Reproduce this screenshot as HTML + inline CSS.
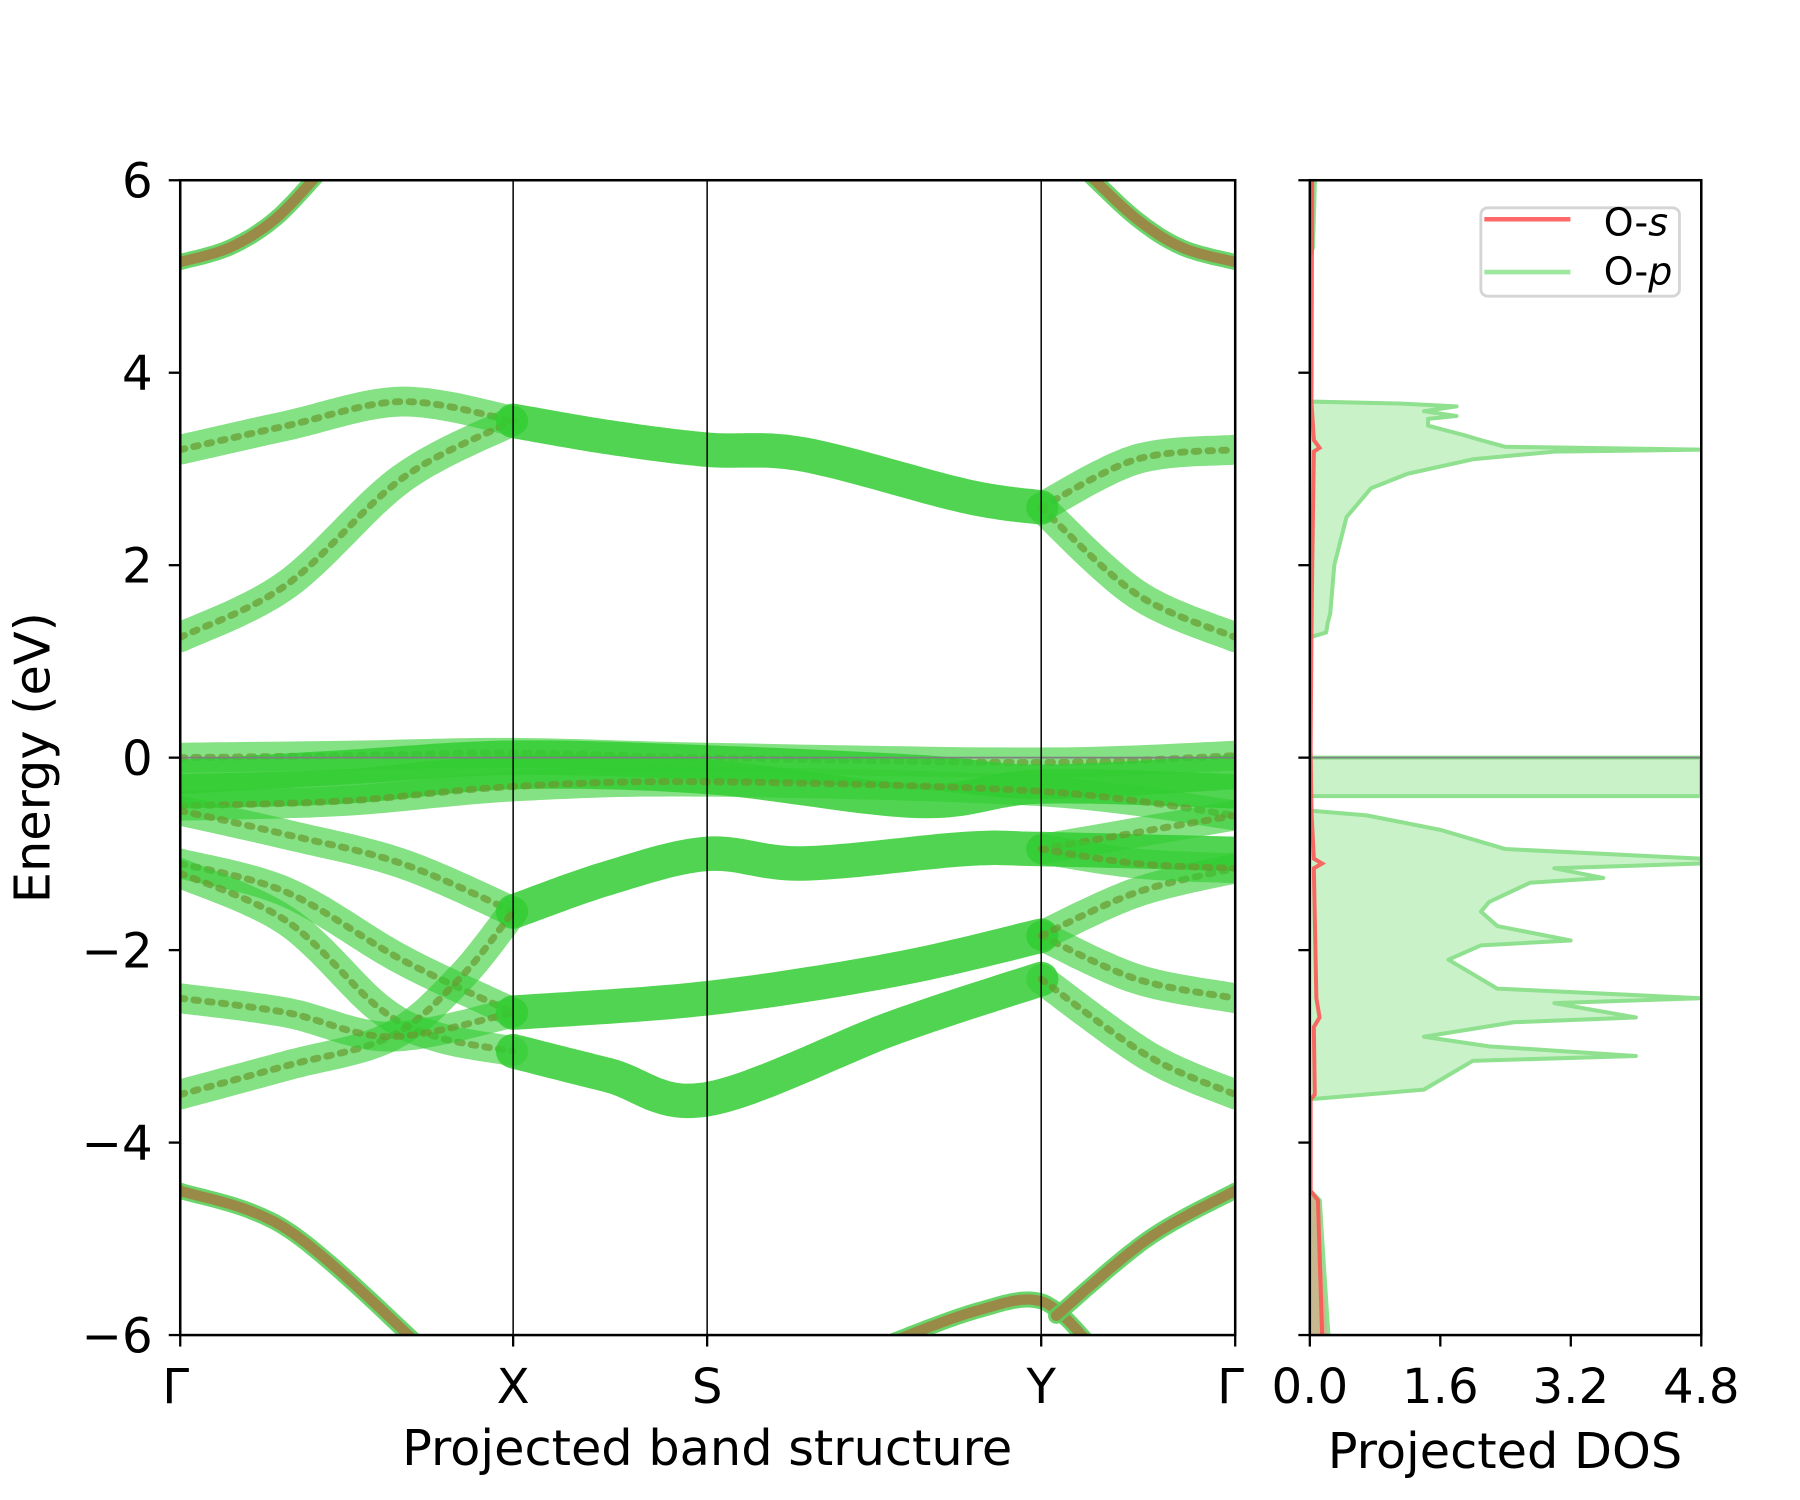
<!DOCTYPE html>
<html><head><meta charset="utf-8"><style>
html,body{margin:0;padding:0;background:#fff;}
svg{display:block;}
text{font-family:"DejaVu Sans","Liberation Sans",sans-serif;fill:#000;}
</style></head><body>
<svg id="s" width="1800" height="1500" viewBox="0 0 1568 1306.67" xmlns="http://www.w3.org/2000/svg">
<defs>
<clipPath id="cb"><rect x="157" y="157" width="919" height="1006"/></clipPath>
<clipPath id="cd"><rect x="1141" y="157" width="341" height="1006"/></clipPath>
</defs>
<rect width="1568" height="1307" fill="#fff"/>
<g id="bands" clip-path="url(#cb)"></g>
<g id="dos" clip-path="url(#cd)"></g>
<g id="axes"></g>
</svg>
<script>
var NS="http://www.w3.org/2000/svg";
function el(p,t,a,txt){var e=document.createElementNS(NS,t);for(var k in a)e.setAttribute(k,a[k]);if(txt!==undefined)e.textContent=txt;p.appendChild(e);return e;}
var B=document.getElementById('bands'),D=document.getElementById('dos'),A=document.getElementById('axes');
function Y(E){return 660-E*83.83;}
var G0=157,X=447,S=616,YY=907,G1=1076;
function curve(pts){
  var P=pts.map(function(p){return [p[0],Y(p[1])];});
  var n=P.length,out=[];
  for(var i=0;i<n-1;i++){
    var p0=P[i>0?i-1:0],p1=P[i],p2=P[i+1],p3=P[i+2<n?i+2:n-1];
    for(var t=0;t<1;t+=0.05){var t2=t*t,t3=t2*t;
      var f=function(a,b,c,d){return 0.5*(2*b+(-a+c)*t+(2*a-5*b+4*c-d)*t2+(-a+3*b-3*c+d)*t3);};
      out.push([f(p0[0],p1[0],p2[0],p3[0]),f(p0[1],p1[1],p2[1],p3[1])]);}
  }
  out.push(P[n-1]);
  return out.map(function(p){return p[0].toFixed(1)+','+p[1].toFixed(1)}).join(' ');
}
function band(pts,type){
  var d=curve(pts);
  if(type=='thick'){el(B,'polyline',{points:d,fill:'none',stroke:'#32cd32','stroke-width':30,'stroke-opacity':0.85,'stroke-linecap':'round','stroke-linejoin':'round'});}
  else if(type=='light'){el(B,'polyline',{points:d,fill:'none',stroke:'#32cd32','stroke-width':26,'stroke-opacity':0.6,'stroke-linecap':'round','stroke-linejoin':'round'});
    el(B,'polyline',{points:d,fill:'none',stroke:'#6a9a30','stroke-width':6,'stroke-opacity':0.7,'stroke-dasharray':'4 8','stroke-linecap':'round'});}
  else {el(B,'polyline',{points:d,fill:'none',stroke:'#5ad05a','stroke-width':14,'stroke-opacity':0.9,'stroke-linecap':'round'});
    el(B,'polyline',{points:d,fill:'none',stroke:'#9a8a48','stroke-width':9,'stroke-linecap':'round'});}
}
band([[G0,5.15],[200,5.3],[240,5.6],[280,6.1]],'dot');
band([[945,6.1],[990,5.6],[1030,5.3],[G1,5.15]],'dot');
band([[G0,3.2],[250,3.45],[350,3.7],[X,3.5]],'light');
band([[G0,1.25],[250,1.8],[350,2.9],[X,3.5]],'light');
band([[YY,2.6],[990,3.1],[G1,3.2]],'light');
band([[YY,2.6],[990,1.7],[G1,1.25]],'light');
band([[X,3.5],[530,3.33],[S,3.2],[700,3.15],[840,2.72],[YY,2.6]],'thick');
band([[G0,0.0],[300,0.02],[X,0.05],[S,0.0],[YY,-0.05],[G1,0.02]],'light');
band([[G0,-0.2],[300,-0.1],[X,0.0],[S,-0.05],[800,-0.15],[YY,-0.25],[G1,-0.15]],'thick');
band([[G0,-0.35],[300,-0.3],[X,-0.15],[S,-0.2],[800,-0.45],[YY,-0.3],[G1,-0.35]],'thick');
band([[G0,-0.5],[300,-0.45],[X,-0.3],[S,-0.25],[YY,-0.35],[G1,-0.6]],'light');
band([[G0,-0.55],[250,-0.8],[350,-1.1],[X,-1.6]],'light');
band([[X,-1.6],[530,-1.25],[S,-1.0],[700,-1.1],[840,-0.95],[YY,-0.95],[G1,-1.0]],'thick');
band([[YY,-0.95],[G1,-0.6]],'light');
band([[G0,-1.1],[250,-1.4],[350,-2.1],[X,-2.65]],'light');
band([[G0,-1.2],[250,-1.7],[330,-2.6],[380,-2.9],[X,-3.05]],'light');
band([[G0,-3.5],[250,-3.2],[340,-2.9],[400,-2.3],[X,-1.6]],'light');
band([[G0,-2.5],[250,-2.65],[340,-2.9],[X,-2.65]],'light');
band([[X,-2.65],[S,-2.5],[780,-2.2],[YY,-1.85]],'thick');
band([[X,-3.05],[530,-3.3],[S,-3.55],[780,-2.8],[YY,-2.3]],'thick');
band([[YY,-1.85],[990,-2.3],[G1,-2.5]],'light');
band([[YY,-1.85],[990,-1.4],[G1,-1.15]],'light');
band([[YY,-2.3],[1000,-3.1],[G1,-3.5]],'light');
band([[YY,-0.95],[990,-1.1],[G1,-1.15]],'light');
band([[G0,-4.5],[250,-4.9],[365,-6.1]],'dot');
band([[770,-6.1],[850,-5.75],[YY,-5.65],[950,-6.1]],'dot');
band([[920,-5.8],[1000,-5.0],[G1,-4.5]],'dot');
el(B,'line',{x1:157,y1:660,x2:1076,y2:660,stroke:'#808080','stroke-width':1.5});
function dx(v){return 1141+v*71;}
function dosPath(arr){var s='M'+dx(0)+','+Y(arr[0][0]);arr.forEach(function(p){s+=' L'+dx(p[1]).toFixed(1)+','+Y(p[0]).toFixed(1);});s+=' L'+dx(0)+','+Y(arr[arr.length-1][0]);return s;}
var cb=[[1.25,0],[1.3,0.2],[1.4,0.22],[1.5,0.25],[2.0,0.3],[2.5,0.45],[2.8,0.75],[2.95,1.2],[3.1,2.0],[3.18,3.0],[3.2,4.8],[3.23,2.4],[3.3,2.1],[3.35,1.9],[3.45,1.45],[3.52,1.45],[3.55,1.8],[3.6,1.4],[3.65,1.8],[3.68,1.1],[3.7,0.0]];
var vb=[[-0.55,0],[-0.6,0.7],[-0.75,1.6],[-0.95,2.4],[-1.05,4.8],[-1.1,4.8],[-1.15,3.0],[-1.25,3.6],[-1.3,2.7],[-1.5,2.2],[-1.6,2.1],[-1.75,2.3],[-1.9,3.2],[-1.95,2.1],[-2.1,1.7],[-2.4,2.3],[-2.5,4.8],[-2.55,3.0],[-2.7,4.0],[-2.75,2.5],[-2.9,1.4],[-3.0,2.2],[-3.1,4.0],[-3.15,2.0],[-3.35,1.6],[-3.45,1.4],[-3.55,0]];
var fb=[[0,0],[0,4.8],[-0.4,4.8],[-0.4,0]];
[cb,vb,fb].forEach(function(a){el(D,'path',{d:dosPath(a),fill:'#c9f2c9',stroke:'#8fe08f','stroke-width':3.5,'stroke-linejoin':'round'});});
el(D,'path',{d:'M1141,'+Y(-4.5)+' L1146,'+Y(-4.55)+' L1150,'+Y(-4.6)+' L1152,'+Y(-5)+' L1158,'+Y(-6.1)+' L1141,'+Y(-6.1)+'Z',fill:'#c8b890',stroke:'#8fe08f','stroke-width':3});
el(D,'path',{d:'M1141,'+Y(5.2)+' L1144,'+Y(5.3)+' L1146,'+Y(6.1)+' L1141,'+Y(6.1)+'Z',fill:'#a0a050',stroke:'#8fe08f','stroke-width':3});
var os=[[6,0.03],[3.7,0.02],[3.3,0.05],[3.22,0.12],[3.18,0.05],[2,0.03],[1.25,0.02],[0.1,0.01],[-0.55,0.02],[-1.05,0.05],[-1.1,0.15],[-1.15,0.05],[-2.5,0.08],[-2.7,0.12],[-2.8,0.05],[-3.5,0.06],[-3.55,0.01],[-4.5,0.01],[-4.6,0.1],[-6,0.15]];
el(D,'polyline',{points:os.map(function(p){return dx(p[1]).toFixed(1)+','+Y(p[0]).toFixed(1)}).join(' '),fill:'none',stroke:'#ff5050','stroke-width':3.5,'stroke-opacity':0.85});
el(D,'line',{x1:1141,y1:660,x2:1482,y2:660,stroke:'#808080','stroke-width':1.5});
el(A,'rect',{x:1290,y:181,width:173,height:77,rx:6,fill:'#fff','fill-opacity':0.8,stroke:'#d5d5d5','stroke-width':2.5});
el(A,'line',{x1:1293,y1:191,x2:1368,y2:191,stroke:'#ff6868','stroke-width':4});
el(A,'line',{x1:1293,y1:237,x2:1368,y2:237,stroke:'#9ee89e','stroke-width':4});
var t1=el(A,'text',{x:1397,y:205,'font-size':33},'O-');el(t1,'tspan',{'font-style':'italic'},'s');
var t2=el(A,'text',{x:1397,y:248,'font-size':33},'O-');el(t2,'tspan',{'font-style':'italic'},'p');
[X,S,YY].forEach(function(x){el(A,'line',{x1:x,y1:157,x2:x,y2:1163,stroke:'#000','stroke-width':1.3});});
el(A,'rect',{x:157,y:157,width:919,height:1006,fill:'none',stroke:'#000','stroke-width':2.2});
el(A,'rect',{x:1141,y:157,width:341,height:1006,fill:'none',stroke:'#000','stroke-width':2.2});
for(var E=-6;E<=6;E+=2){var y=Y(E);
  el(A,'line',{x1:147,y1:y,x2:157,y2:y,stroke:'#000','stroke-width':2});
  el(A,'line',{x1:1131,y1:y,x2:1141,y2:y,stroke:'#000','stroke-width':2});
  el(A,'text',{x:133,y:y+15,'font-size':42,'text-anchor':'end'},(E<0?'\u2212':'')+Math.abs(E));}
[[G0,'\u0393'],[X,'X'],[S,'S'],[YY,'Y'],[G1,'\u0393']].forEach(function(p){
  el(A,'line',{x1:p[0],y1:1163,x2:p[0],y2:1173,stroke:'#000','stroke-width':2});
  el(A,'text',{x:p[0]-(p[1]=='\u0393'?4:0),y:1222,'font-size':42,'text-anchor':'middle'},p[1]);});
['0.0','1.6','3.2','4.8'].forEach(function(s,i){var x=1141+i*113.67;
  el(A,'line',{x1:x,y1:1163,x2:x,y2:1173,stroke:'#000','stroke-width':2});
  el(A,'text',{x:x,y:1222,'font-size':42,'text-anchor':'middle'},s);});
el(A,'text',{x:616,y:1276,'font-size':43,'text-anchor':'middle'},'Projected band structure');
el(A,'text',{x:1311,y:1279,'font-size':43,'text-anchor':'middle'},'Projected DOS');
el(A,'text',{x:0,y:0,'font-size':43,'text-anchor':'middle',transform:'translate(43,660) rotate(-90)'},'Energy (eV)');
</script>
</body></html>
